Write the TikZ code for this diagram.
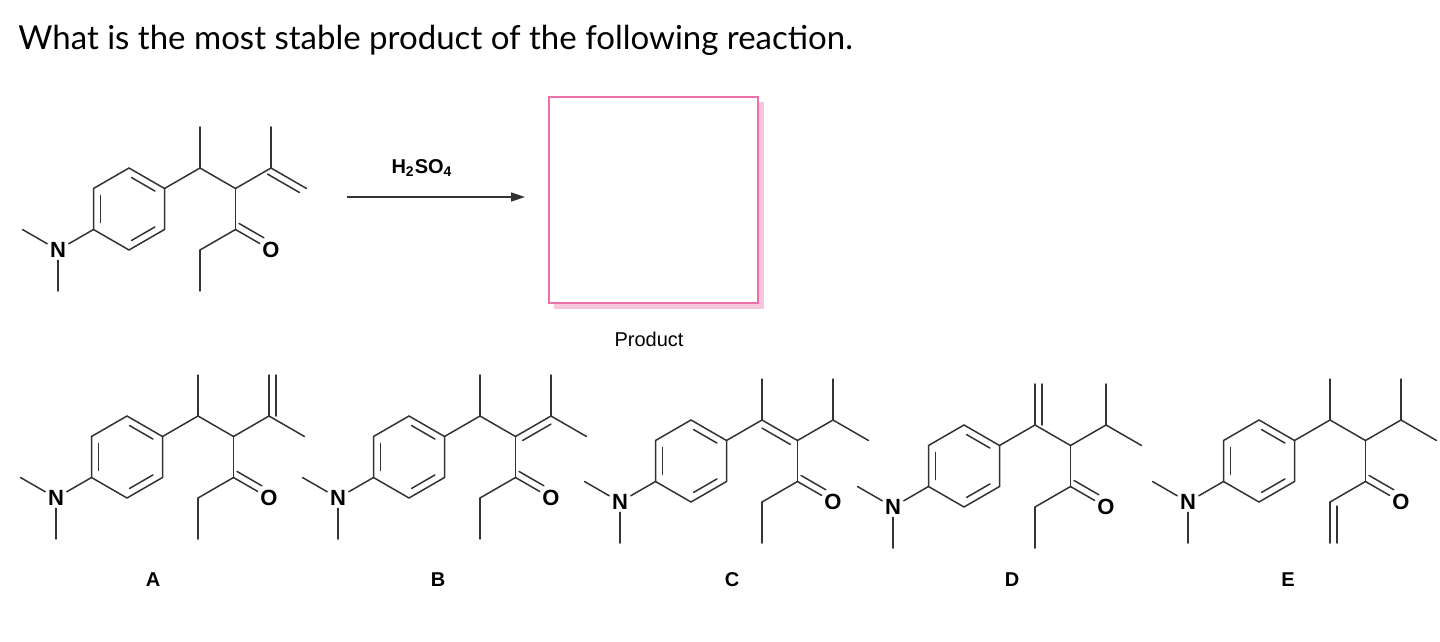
\documentclass[tikz,border=0pt]{standalone}
\usepackage{fontspec}
\setmainfont{Lato}
\newfontfamily\hv{Liberation Sans}
\usetikzlibrary{calc,arrows.meta}
\definecolor{bond}{HTML}{333333}
\definecolor{pinkbd}{HTML}{EE6FAA}
\definecolor{pinksh}{HTML}{F7C6DB}
\tikzset{
 atom/.style={font=\hv\bfseries\fontsize{11}{11}\selectfont, inner sep=1.2pt, text=black},
 lbl/.style={font=\hv\fontsize{10}{12}\selectfont, text=black},
 bondln/.style={line width=0.75pt, draw=bond, line cap=round}
}
\newcommand\dbl[6]{%
 \draw[bondln] (#1) -- (#2);
 \draw[bondln] ($(#1)!#5!(#2)!3.5pt!#3:(#2)$) -- ($(#2)!#6!(#1)!3.5pt!#4:(#1)$);}
\newcommand\sgl[2]{\draw[bondln] (#1) -- (#2);}
\newcommand\core{%
 \node[atom] (N) at (0,0) {N};
 \node[atom] (O) at (6,0) {O};
 \coordinate (m1) at (-1,-1); \coordinate (m2) at (0,2);
 \coordinate (r1) at (1,-1); \coordinate (r2) at (1,-3); \coordinate (r3) at (2,-4);
 \coordinate (r4) at (3,-3); \coordinate (r5) at (3,-1); \coordinate (r6) at (2,0);
 \coordinate (Ca) at (4,-4); \coordinate (Cm) at (4,-6); \coordinate (Cb) at (5,-3);
 \coordinate (Cc) at (6,-4); \coordinate (Cc1) at (6,-6); \coordinate (Cc2) at (7,-3);
 \coordinate (Cd) at (5,-1); \coordinate (Ce) at (4,0); \coordinate (Cf) at (4,2);
 \sgl{N}{m1}\sgl{N}{m2}\sgl{N}{r1}
 \draw[bondln] (r1) -- (r2) -- (r3) -- (r4) -- (r5) -- (r6) -- cycle;
 \draw[bondln] ($(r1)!0.17!(r2)!3.5pt!-90:(r2)$) -- ($(r2)!0.17!(r1)!3.5pt!90:(r1)$);
 \draw[bondln] ($(r3)!0.17!(r4)!3.5pt!-90:(r4)$) -- ($(r4)!0.17!(r3)!3.5pt!90:(r3)$);
 \draw[bondln] ($(r5)!0.17!(r6)!3.5pt!-90:(r6)$) -- ($(r6)!0.17!(r5)!3.5pt!90:(r5)$);
 \sgl{r4}{Ca}\sgl{Cb}{Cd}\sgl{Cd}{Ce}
 \dbl{Cd}{O}{90}{-90}{0}{0.3}}
\begin{document}
\begin{tikzpicture}[x=0.5pt,y=-0.5pt]
\useasboundingbox (0,0) rectangle (1440,642);
\node[anchor=base west, font=\fontsize{16.5}{20}\selectfont, inner sep=0pt] (title) at (18,50) {What is the most stable product of the following reaction.};
% reactant
\begin{scope}[shift={(58,250)}, x=17.75pt, y=-10.25pt]
 \core
 \sgl{Ca}{Cm}\sgl{Ca}{Cb}\sgl{Cb}{Cc}\sgl{Cc}{Cc1}\dbl{Cc}{Cc2}{-90}{90}{0}{0.1}\sgl{Ce}{Cf}
\end{scope}
% arrow
\coordinate (a1) at (347,197); \coordinate (a2) at (525,197);
\draw[line width=0.7pt, draw=bond, -{Triangle[length=7pt,width=4.5pt]}] (a1) -- (a2);
\node[lbl, font=\hv\bfseries\fontsize{10}{12}\selectfont] (reag) at (422,168) {H\textsubscript{2}SO\textsubscript{4}};
% product box
\fill[pinksh] (554,102) rectangle (764,309);
\draw[pinkbd, line width=0.8pt, fill=white] (549,97) rectangle (758,303);
\node[lbl] (prod) at (649,339) {Product};
% A
\begin{scope}[shift={(56,498)}, x=17.75pt, y=-10.25pt]
 \core
 \sgl{Ca}{Cm}\sgl{Ca}{Cb}\sgl{Cb}{Cc}\dbl{Cc}{Cc1}{-90}{90}{0}{0}\sgl{Cc}{Cc2}\sgl{Ce}{Cf}
\end{scope}
% B
\begin{scope}[shift={(338,498)}, x=17.75pt, y=-10.25pt]
 \core
 \sgl{Ca}{Cm}\sgl{Ca}{Cb}\dbl{Cb}{Cc}{-90}{90}{0.1}{0.1}\sgl{Cc}{Cc1}\sgl{Cc}{Cc2}\sgl{Ce}{Cf}
\end{scope}
% C
\begin{scope}[shift={(620,502)}, x=17.75pt, y=-10.25pt]
 \core
 \sgl{Ca}{Cm}\dbl{Ca}{Cb}{-90}{90}{0.1}{0.1}\sgl{Cb}{Cc}\sgl{Cc}{Cc1}\sgl{Cc}{Cc2}\sgl{Ce}{Cf}
\end{scope}
% D
\begin{scope}[shift={(893,507)}, x=17.75pt, y=-10.25pt]
 \core
 \dbl{Ca}{Cm}{-90}{90}{0}{0}\sgl{Ca}{Cb}\sgl{Cb}{Cc}\sgl{Cc}{Cc1}\sgl{Cc}{Cc2}\sgl{Ce}{Cf}
\end{scope}
% E
\begin{scope}[shift={(1188,502)}, x=17.75pt, y=-10.25pt]
 \core
 \sgl{Ca}{Cm}\sgl{Ca}{Cb}\sgl{Cb}{Cc}\sgl{Cc}{Cc1}\sgl{Cc}{Cc2}\dbl{Ce}{Cf}{90}{-90}{0.1}{0}
\end{scope}
\node[lbl, font=\hv\bfseries\fontsize{10}{12}\selectfont] (lA) at (153,580) {A};
\node[lbl, font=\hv\bfseries\fontsize{10}{12}\selectfont] (lB) at (438,580) {B};
\node[lbl, font=\hv\bfseries\fontsize{10}{12}\selectfont] (lC) at (732,580) {C};
\node[lbl, font=\hv\bfseries\fontsize{10}{12}\selectfont] (lD) at (1012,580) {D};
\node[lbl, font=\hv\bfseries\fontsize{10}{12}\selectfont] (lE) at (1288,580) {E};
\end{tikzpicture}
\end{document}
